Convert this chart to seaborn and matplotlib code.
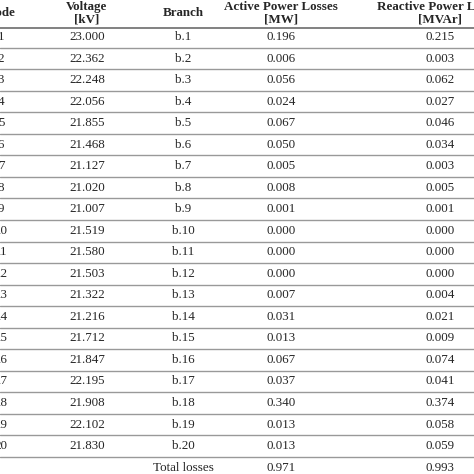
import matplotlib
matplotlib.use("Agg")
import matplotlib.pyplot as plt
import seaborn as sns

sns.set_theme(style="white")
plt.rcParams['font.family'] = ['Liberation Serif', 'DejaVu Serif']

nodes = [str(i) for i in range(1, 21)]
voltage = ["23.000","22.362","22.248","22.056","21.855","21.468","21.127","21.020","21.007","21.519",
           "21.580","21.503","21.322","21.216","21.712","21.847","22.195","21.908","22.102","21.830"]
branches = ["b.%d" % i for i in range(1, 21)]
active = ["0.196","0.006","0.056","0.024","0.067","0.050","0.005","0.008","0.001","0.000",
          "0.000","0.000","0.007","0.031","0.013","0.067","0.037","0.340","0.013","0.013"]
reactive = ["0.215","0.003","0.062","0.027","0.046","0.034","0.003","0.005","0.001","0.000",
            "0.000","0.000","0.004","0.021","0.009","0.074","0.041","0.374","0.058","0.059"]
total_active = "0.971"
total_reactive = "0.993"
headers = ["Node", "Voltage\n[kV]", "Branch", "Active Power Losses\n[MW]", "Reactive Power Losses\n[MVAr]"]

fig = plt.figure(figsize=(4.74, 4.74), dpi=100)
ax = fig.add_axes([0, 0, 1, 1])
ax.set_xlim(0, 474); ax.set_ylim(474, 0); ax.axis("off")

xs = [1, 87, 183, 281, 440]
fs = 9.4
for x, h in zip(xs, headers):
    ax.text(x, 13, h, ha="center", va="center", fontsize=fs, fontweight="bold", linespacing=1.05)

y0, dy = 37, 21.53
ax.plot([0, 474], [27.5, 27.5], color="#777777", lw=1.3)
for i in range(20):
    y = y0 + i * dy
    for x, v in zip(xs, [nodes[i], voltage[i], branches[i], active[i], reactive[i]]):
        ax.text(x, y, v, ha="center", va="center", fontsize=fs)
    ax.plot([0, 474], [y + dy / 2, y + dy / 2], color="#999999", lw=1.0)
yt = y0 + 20 * dy
ax.text(xs[2], yt, "Total losses", ha="center", va="center", fontsize=fs)
ax.text(xs[3], yt, total_active, ha="center", va="center", fontsize=fs)
ax.text(xs[4], yt, total_reactive, ha="center", va="center", fontsize=fs)

fig.savefig("out.png", dpi=100, facecolor="white")
